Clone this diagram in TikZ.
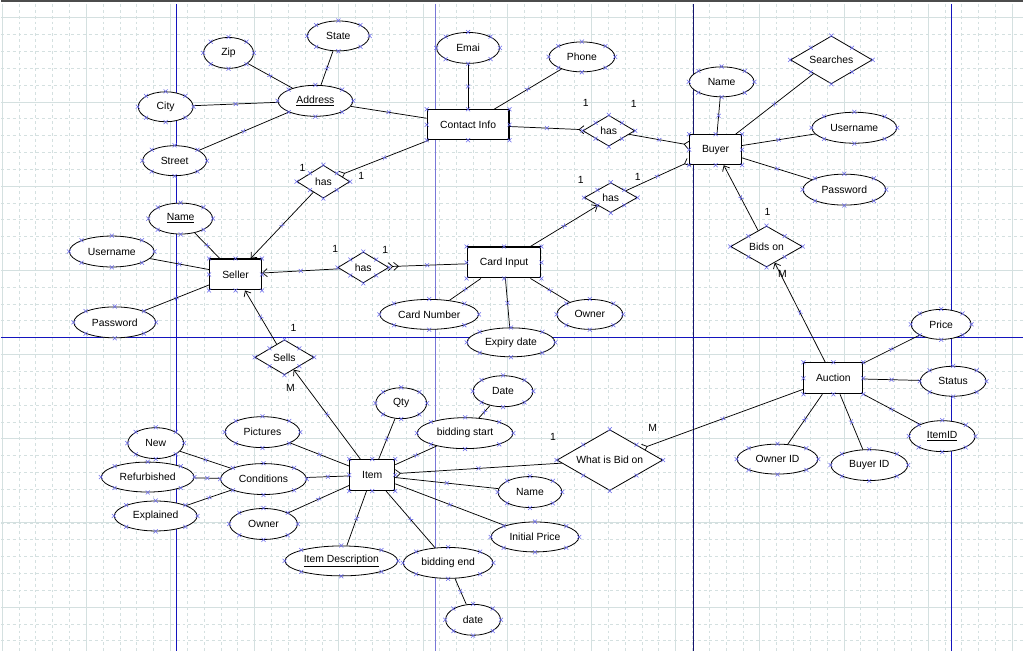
\documentclass[tikz,border=0pt]{standalone}
\usepackage{fontspec}
\setmainfont{Liberation Sans}
\usetikzlibrary{shapes.geometric,arrows.meta,decorations.markings}
\definecolor{gridgray}{RGB}{212,224,224}
\definecolor{portblue}{RGB}{105,105,235}
\definecolor{lineblue}{RGB}{20,20,190}
\definecolor{paleblue}{RGB}{120,120,215}
\definecolor{navy}{RGB}{20,20,110}
\pgfdeclarelayer{grid}
\pgfdeclarelayer{links}
\pgfsetlayers{grid,links,main}
\tikzset{
    sz/.style 2 args={minimum width=#1*0.75pt, minimum height=#2*0.75pt},
    attr/.style={ellipse, draw, fill=white, line width=0.6pt, inner sep=0pt},
    entity/.style={rectangle, draw, fill=white, line width=0.8pt, inner sep=0pt},
    rel/.style={diamond, aspect=1.7, draw, fill=white, line width=0.6pt, inner sep=0pt},
    num/.style={inner sep=0pt},
    portx/.style={-, draw=portblue, line width=0.4pt},
    link/.style={draw, line width=0.55pt, postaction={decorate},
        decoration={markings, mark=at position 0.5 with {\draw[portx] (-2,-2) -- (2,2) (-2,2) -- (2,-2);}}},
    toend/.style={-{Straight Barb[length=3.5pt,width=6pt]}},
    forkend/.style={-{Straight Barb[length=3.5pt,width=6pt,reversed]}},
    tostart/.style={{Straight Barb[length=3.5pt,width=6pt]}-},
    forkstart/.style={{Straight Barb[length=3.5pt,width=6pt,reversed]}-},
    twoforkstart/.style={{Straight Barb[length=3.5pt,width=6pt,reversed] Straight Barb[length=3.5pt,width=6pt,reversed]}-}
}
\begin{document}
\begin{tikzpicture}[x=0.75pt,y=-0.75pt, font=\fontsize{7.8}{9}\selectfont]

    % Canvas and grid
    \begin{pgfonlayer}{grid}
    \fill[white] (0,0) rectangle (1024,652);
    \foreach \k in {0,...,60}
        \draw[gridgray, line width=0.4pt, dash pattern=on 2.2pt off 2.2pt] ({1+16.87*\k},4) -- ({1+16.87*\k},652);
    \foreach \k in {0,...,38}
        \draw[gridgray, line width=0.4pt, dash pattern=on 2.2pt off 2.2pt] (0,{0.84+16.87*\k}) -- (1024,{0.84+16.87*\k});
    \foreach \k in {0,...,12}
        \draw[gridgray, line width=0.5pt] ({1+84.35*\k},4) -- ({1+84.35*\k},652);
    \foreach \k in {0,...,7}
        \draw[gridgray, line width=0.5pt] (0,{17.7+84.35*\k}) -- (1024,{17.7+84.35*\k});
    % Page borders
    \draw[lineblue, line width=0.75pt] (176,4) -- (176,652);
    \draw[paleblue, line width=0.9pt] (435,4) -- (435,652);
    \draw[navy, line width=0.75pt] (694,4) -- (694,652);
    \draw[lineblue, line width=0.75pt] (952,4) -- (952,652);
    \draw[lineblue, line width=0.75pt] (0,338) -- (1024,338);
    \draw[gray!60!black, line width=1.5pt] (0,1) -- (1024,1); % ruler
    \end{pgfonlayer}
    \useasboundingbox (0,0) rectangle (1024,652);

    % Entities
    \node[entity, sz={82}{30}] (contact) at (468,125) {Contact Info};
    \node[entity, sz={52}{30}] (buyer) at (716,150) {Buyer};
    \node[entity, sz={52}{31}] (seller) at (235,275) {Seller};
    \node[entity, sz={74}{31}] (card) at (504,263) {Card Input};
    \node[entity, sz={59}{31}] (auction) at (834,379) {Auction};
    \node[entity, sz={45}{31}] (item) at (372,476) {Item};

    % Relationships
    \node[rel, sz={53}{33}] (hasa) at (323,182) {has};
    \node[rel, sz={52}{31}] (hasb) at (609,131) {has};
    \node[rel, sz={53}{30}] (hasc) at (611,198) {has};
    \node[rel, sz={51}{31}] (hasd) at (363,268) {has};
    \node[rel, sz={82}{48}] (searches) at (832,60) {Searches};
    \node[rel, sz={72}{41}] (bidson) at (767,247) {Bids on};
    \node[rel, sz={59}{35}] (sells) at (284,358) {Sells};
    \node[rel, sz={106}{61}] (bidon) at (610,461) {What is Bid on};

    % Attributes
    \node[attr, sz={50}{31}] (zip) at (228,53) {Zip};
    \node[attr, sz={62}{30}] (state) at (338,36) {State};
    \node[attr, sz={55}{30}] (city) at (165,107) {City};
    \node[attr, sz={75}{31}] (address) at (315,101) {\underline{Address}};
    \node[attr, sz={64}{30}] (street) at (174,161) {Street};
    \node[attr, sz={64}{31}] (sname) at (180,219) {\underline{Name}};
    \node[attr, sz={85}{31}] (susername) at (111,252) {Username};
    \node[attr, sz={82}{31}] (spassword) at (114,323) {Password};
    \node[attr, sz={63}{31}] (email) at (468,48) {Emai};
    \node[attr, sz={66}{30}] (phone) at (582,57) {Phone};
    \node[attr, sz={65}{30}] (bname) at (722,82) {Name};
    \node[attr, sz={85}{31}] (busername) at (855,128) {Username};
    \node[attr, sz={83}{31}] (bpassword) at (845,190) {Password};
    \node[attr, sz={99}{30}] (cardnum) at (429,315) {Card Number};
    \node[attr, sz={66}{30}] (cowner) at (590,315) {Owner};
    \node[attr, sz={88}{29}] (expiry) at (511,343) {Expiry date};
    \node[attr, sz={60}{30}] (price) at (942,325) {Price};
    \node[attr, sz={66}{30}] (status) at (954,382) {Status};
    \node[attr, sz={66}{31}] (itemid) at (943,437) {\underline{ItemID}};
    \node[attr, sz={81}{30}] (ownerid) at (778,460) {Owner ID};
    \node[attr, sz={77}{31}] (buyerid) at (870,466) {Buyer ID};
    \node[attr, sz={56}{31}] (new) at (155,444) {New};
    \node[attr, sz={93}{30}] (refurb) at (147,478) {Refurbished};
    \node[attr, sz={83}{30}] (explained) at (155,517) {Explained};
    \node[attr, sz={75}{31}] (pictures) at (262,433) {Pictures};
    \node[attr, sz={86}{31}] (conditions) at (263,480) {Conditions};
    \node[attr, sz={68}{31}] (iowner) at (263,525) {Owner};
    \node[attr, sz={113}{30}] (idesc) at (341,562) {\underline{Item Description}};
    \node[attr, sz={51}{31}] (qty) at (401,404) {Qty};
    \node[attr, sz={60}{31}] (sdate) at (503,392) {Date};
    \node[attr, sz={96}{31}] (bstart) at (465,434) {bidding start};
    \node[attr, sz={64}{31}] (iname) at (530,493) {Name};
    \node[attr, sz={88}{30}] (iprice) at (535,538) {Initial Price};
    \node[attr, sz={90}{31}] (bend) at (448,564) {bidding end};
    \node[attr, sz={55}{31}] (edate) at (473,621) {date};

    % Connectors
    \begin{pgfonlayer}{links}
    % address and contact info
    \foreach \a in {zip,state,city,street}
        \draw[link] (\a) -- (address);
    \draw[link] (address) -- (contact);
    \draw[link] (email) -- (contact);
    \draw[link] (phone) -- (contact);
    % buyer
    \foreach \a in {bname,searches,busername,bpassword}
        \draw[link] (buyer) -- (\a);
    \draw[link,forkend] (contact) -- (hasb);
    \draw[link,forkend] (hasb) -- (buyer);
    \draw[link,toend] (card) -- (hasc);
    \draw[link,forkend] (hasc) -- (buyer);
    \draw[link,toend] (bidson) -- (buyer);
    \draw[link,toend] (auction) -- (bidson);
    % seller
    \foreach \a in {sname,susername,spassword}
        \draw[link] (\a) -- (seller);
    \draw[link,toend] (hasa) -- (seller);
    \draw[link,forkstart] (hasa) -- (contact);
    \draw[link,tostart] (seller) -- (hasd);
    \draw[link,twoforkstart] (hasd) -- (card);
    \draw[link,toend] (sells) -- (seller);
    \draw[link,toend] (item) -- (sells);
    % card input
    \foreach \a in {cardnum,cowner,expiry}
        \draw[link] (card) -- (\a);
    % auction
    \foreach \a in {price,status,itemid,ownerid,buyerid}
        \draw[link] (auction) -- (\a);
    \draw[link,forkstart] (item) -- (bidon);
    \draw[link,forkstart] (bidon) -- (auction);
    % item
    \foreach \a in {qty,bstart,iname,iprice,bend,idesc,iowner,conditions,pictures}
        \draw[link] (item) -- (\a);
    \draw[link] (sdate) -- (bstart);
    \draw[link] (edate) -- (bend);
    \foreach \a in {new,refurb,explained}
        \draw[link] (\a) -- (conditions);
    \end{pgfonlayer}

    % Connection points
    \foreach \n in {contact,buyer,seller,card,auction,item,hasa,hasb,hasc,hasd,searches,bidson,sells,bidon,
                    zip,state,city,address,street,sname,susername,spassword,email,phone,bname,busername,bpassword,
                    cardnum,cowner,expiry,price,status,itemid,ownerid,buyerid,new,refurb,explained,pictures,
                    conditions,iowner,idesc,qty,sdate,bstart,iname,iprice,bend,edate}
        \foreach \a in {north,south,east,west,north east,north west,south east,south west}
            \draw[portx] (\n.\a) +(-2,-2) -- +(2,2) +(-2,2) -- +(2,-2);

    % Cardinalities
    \node[num] (cb1) at (586,103) {1};
    \node[num] (cb2) at (634,104) {1};
    \node[num] (cc1) at (581,180) {1};
    \node[num] (cc2) at (638,177) {1};
    \node[num] (sa1) at (302,168) {1};
    \node[num] (sa2) at (361,176) {1};
    \node[num] (sd1) at (335,249) {1};
    \node[num] (sd2) at (385,250) {1};
    \node[num] (se1) at (293,329) {1};
    \node[num] (se2) at (290,389) {M};
    \node[num] (bo1) at (768,212) {1};
    \node[num] (bo2) at (783,274) {M};
    \node[num] (wb1) at (553,438) {1};
    \node[num] (wb2) at (653,429) {M};
\end{tikzpicture}
\end{document}
